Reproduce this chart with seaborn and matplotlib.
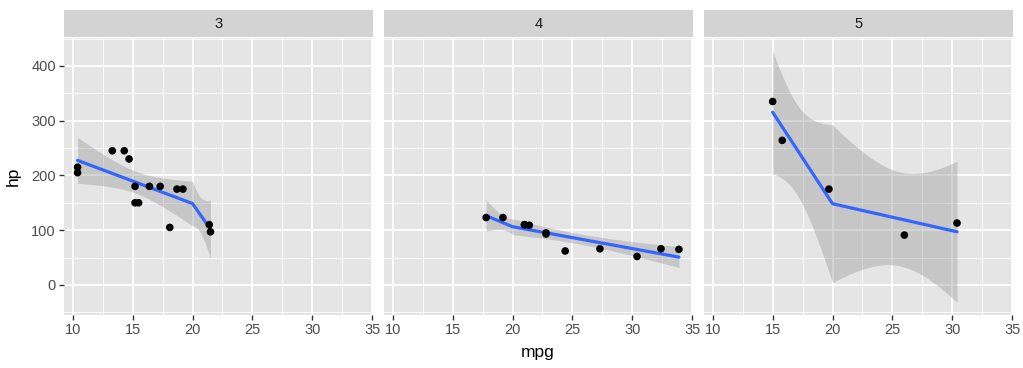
import numpy as np
import pandas as pd
import matplotlib
matplotlib.use("Agg")
import matplotlib.pyplot as plt
import seaborn as sns
from matplotlib.patches import Rectangle

# mtcars: mpg vs hp, split by number of gears
gear3_mpg = [21.4, 18.7, 18.1, 14.3, 16.4, 17.3, 15.2, 10.4, 10.4, 14.7, 21.5, 15.5, 15.2, 13.3, 19.2]
gear3_hp = [110, 175, 105, 245, 180, 180, 180, 205, 215, 230, 97, 150, 150, 245, 175]
gear4_mpg = [21.0, 21.0, 22.8, 24.4, 22.8, 19.2, 17.8, 32.4, 30.4, 33.9, 27.3, 21.4]
gear4_hp = [110, 110, 93, 62, 95, 123, 123, 66, 52, 65, 66, 109]
gear5_mpg = [26.0, 30.4, 15.8, 19.7, 15.0]
gear5_hp = [91, 113, 264, 175, 335]
gears = [3, 4, 5]

# 97.5% t quantiles for residual df 12, 9, 2
T_QUANT = {12: 2.1788, 9: 2.2622, 2: 4.3027}
KNOT = 20

df = pd.concat([
    pd.DataFrame({"mpg": gear3_mpg, "hp": gear3_hp, "gear": 3}),
    pd.DataFrame({"mpg": gear4_mpg, "hp": gear4_hp, "gear": 4}),
    pd.DataFrame({"mpg": gear5_mpg, "hp": gear5_hp, "gear": 5}),
])


def design(x):
    x = np.asarray(x, float)
    return np.column_stack([np.ones_like(x), x, np.maximum(x - KNOT, 0)])


def smooth(sub):
    # piecewise linear lm, knot at 20, with 95% confidence band
    X = design(sub["mpg"])
    y = sub["hp"].to_numpy(float)
    beta, *_ = np.linalg.lstsq(X, y, rcond=None)
    resid = y - X @ beta
    dof = len(y) - X.shape[1]
    s2 = resid @ resid / dof
    xtx_inv = np.linalg.inv(X.T @ X)
    xs = np.linspace(sub["mpg"].min(), sub["mpg"].max(), 200)
    Xp = design(xs)
    fit = Xp @ beta
    se = np.sqrt(np.einsum("ij,jk,ik->i", Xp, xtx_inv, Xp) * s2)
    t = T_QUANT[dof]
    return pd.DataFrame({"mpg": xs, "fit": fit, "lo": fit - t * se, "hi": fit + t * se})


sns.set_theme(style="darkgrid")
plt.rcParams["font.family"] = ["Liberation Sans", "DejaVu Sans"]

fig = plt.figure(figsize=(10.23, 3.68), dpi=100)
W, H = 1023, 368
panel_top, panel_bot = 38, 315
strip_top = 10
lefts = [63.5, 383.5, 703.5]
pw = 309.5

fits = {g: smooth(df[df["gear"] == g]) for g in gears}
ymin = min(min(f["lo"].min() for f in fits.values()), df["hp"].min())
ymax = max(max(f["hi"].max() for f in fits.values()), df["hp"].max())
pad = (ymax - ymin) * 0.05
xmin, xmax = df["mpg"].min(), df["mpg"].max()
xpad = (xmax - xmin) * 0.05

for i, g in enumerate(gears):
    ax = fig.add_axes([lefts[i] / W, 1 - panel_bot / H, pw / W, (panel_bot - panel_top) / H])
    ax.set_facecolor("#E5E5E5")
    sub = df[df["gear"] == g]
    f = fits[g]
    ax.fill_between(f["mpg"], f["lo"], f["hi"], color="#999999", alpha=0.4, lw=0, zorder=2)
    sns.lineplot(data=f, x="mpg", y="fit", ax=ax, color="#3366FF", lw=2.3, zorder=3)
    sns.scatterplot(data=sub, x="mpg", y="hp", ax=ax, color="black", s=30, edgecolor="none", zorder=4)

    ax.set_xlim(xmin - xpad, xmax + xpad)
    ax.set_ylim(ymin - pad, ymax + pad)
    ax.set_xticks([10, 15, 20, 25, 30, 35])
    ax.set_yticks([0, 100, 200, 300, 400])
    ax.set_xticks(np.arange(12.5, 35, 5), minor=True)
    ax.set_yticks([-50, 50, 150, 250, 350, 450], minor=True)
    ax.grid(which="major", color="white", lw=1.3)
    ax.grid(which="minor", color="white", lw=0.6)
    for s in ax.spines.values():
        s.set_visible(False)
    ax.tick_params(axis="both", which="major", length=3.5, width=1, color="#333333",
                   labelsize=10.5, labelcolor="#4D4D4D", pad=2, bottom=True, left=(i == 0))
    ax.tick_params(which="minor", length=0)
    ax.set_xlabel("")
    ax.set_ylabel("")
    if i > 0:
        ax.set_yticklabels([])

    # facet strip
    sax = fig.add_axes([lefts[i] / W, 1 - (panel_top - 1) / H, pw / W, (panel_top - 1 - strip_top) / H])
    sax.set_axis_off()
    sax.add_patch(Rectangle((0, 0), 1, 1, transform=sax.transAxes, color="#D3D3D3"))
    sax.text(0.5, 0.5, str(g), ha="center", va="center", fontsize=10.5, color="#1A1A1A",
             transform=sax.transAxes)

fig.text(538 / W, 1 - 353 / H, "mpg", ha="center", va="center", fontsize=12.5, color="black")
fig.text(13 / W, 1 - 176 / H, "hp", ha="center", va="center", rotation=90, fontsize=12.5, color="black")

fig.savefig("out.png", dpi=100, facecolor="white")
